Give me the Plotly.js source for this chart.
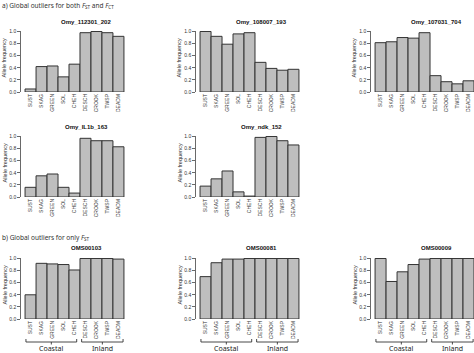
<!DOCTYPE html>
<html>
<head>
<meta charset="utf-8">
<script src="https://cdn.plot.ly/plotly-3.0.1.min.js"></script>
<style>html,body{margin:0;padding:0;background:#fff;}#chart{width:474px;height:353px;}</style>
</head>
<body>
<div id="chart"></div>
<script>
// ---- data ----
const populations = ['SUST','SKAG','GREEN','SOL','CHEH','DESCH','CROOK','TWSP','DEADM'];
const locusNames = ['Omy_112301_202','Omy_108007_193','Omy_107031_704','Omy_IL1b_163','Omy_ndk_152','OMS00103','OMS00081','OMS00009'];
const omy112301_202 = [0.05, 0.42, 0.43, 0.25, 0.46, 0.98, 1.00, 0.98, 0.92];
const omy108007_193 = [1.00, 0.92, 0.79, 0.96, 0.98, 0.49, 0.39, 0.36, 0.375];
const omy107031_704 = [0.815, 0.83, 0.90, 0.89, 0.98, 0.27, 0.17, 0.135, 0.185];
const omyIL1b_163   = [0.16, 0.35, 0.38, 0.16, 0.065, 0.97, 0.93, 0.93, 0.83];
const omyNdk_152    = [0.18, 0.30, 0.43, 0.085, 0.015, 0.985, 1.00, 0.93, 0.86];
const oms00103      = [0.40, 0.92, 0.91, 0.90, 0.81, 1.00, 1.00, 1.00, 0.99];
const oms00081      = [0.70, 0.93, 0.99, 0.99, 1.00, 1.00, 1.00, 1.00, 1.00];
const oms00009      = [1.00, 0.62, 0.78, 0.90, 0.99, 1.00, 1.00, 1.00, 1.00];
const yTicks = [0, 0.2, 0.4, 0.6, 0.8, 1.0];
const sectionLabels = ['a) Global outliers for both <i>F</i><sub>ST</sub> and <i>F</i><sub>CT</sub>',
                       'b) Global outliers for only <i>F</i><sub>ST</sub>'];
const regionLabels = ['Coastal', 'Inland'];
const yTitle = 'Allele frequency';

const series = [omy112301_202, omy108007_193, omy107031_704, omyIL1b_163, omyNdk_152, oms00103, oms00081, oms00009];

// ---- layout geometry (pixels) ----
const W = 474, H = 353;
const px = x => x / W, py = y => 1 - y / H;
const cols = [[21, 128], [196, 303], [371, 474]];
const rows = [[31, 92], [136, 197], [258, 319]];
const titleY = [22, 127, 248];
const cells = [[0,0],[0,1],[0,2],[1,0],[1,1],[2,0],[2,1],[2,2]];

const traces = [];
const layout = {
  width: W, height: H,
  margin: {l: 0, r: 0, t: 0, b: 0},
  paper_bgcolor: '#fff', plot_bgcolor: '#fff',
  showlegend: false, bargap: 0,
  font: {family: 'Liberation Sans, Arial, sans-serif', color: '#222'},
  annotations: [], shapes: []
};

cells.forEach(([r, c], i) => {
  const n = i + 1;
  const xa = n === 1 ? 'xaxis' : 'xaxis' + n;
  const ya = n === 1 ? 'yaxis' : 'yaxis' + n;
  const xr = n === 1 ? 'x' : 'x' + n;
  const yr = n === 1 ? 'y' : 'y' + n;
  traces.push({
    type: 'bar', x: populations, y: series[i], xaxis: xr, yaxis: yr,
    marker: {color: '#BEBEBE', line: {color: '#333', width: 1}},
    hoverinfo: 'x+y'
  });
  const xRange = c === 2 ? [-0.87, 8.5] : [-0.87, 8.87];
  layout[xa] = {
    domain: [px(cols[c][0]), px(cols[c][1])], anchor: yr,
    type: 'category', categoryorder: 'array', categoryarray: populations,
    range: xRange, showline: false, ticks: '', showgrid: false, zeroline: false,
    tickangle: -90, tickfont: {size: 5, color: '#333'}, automargin: false
  };
  layout[ya] = {
    domain: [py(rows[r][1]), py(rows[r][0])], anchor: xr,
    range: [0, 1.008], tickvals: yTicks, tickformat: '.1f',
    showline: true, linecolor: '#444', linewidth: 0.8,
    ticks: 'outside', ticklen: 3, tickwidth: 0.8, tickcolor: '#444',
    tickfont: {size: 5, color: '#333'}, showgrid: false, zeroline: false, automargin: false
  };
  // panel title
  layout.annotations.push({
    text: '<b>' + locusNames[i] + '</b>', xref: 'paper', yref: 'paper',
    x: px(cols[c][0] + 65), y: py(titleY[r]), xanchor: 'center', yanchor: 'middle',
    showarrow: false, font: {size: 6, color: '#111'}
  });
  // y axis title
  layout.annotations.push({
    text: yTitle, xref: 'paper', yref: 'paper', textangle: -90,
    x: px(cols[c][0] - 17), y: py((rows[r][0] + rows[r][1]) / 2 - 3),
    xanchor: 'center', yanchor: 'middle', showarrow: false,
    font: {size: 5.5, color: '#333'}
  });
  // brackets for bottom row
  if (r === 2) {
    const spans = [[-0.42, 4.2], [4.65, 8.42]];
    const yb = 342;
    spans.forEach(([a, b], k) => {
      const lineStyle = {color: '#333', width: 0.9};
      layout.shapes.push({type: 'line', xref: xr, yref: 'paper', x0: a, x1: b, y0: py(yb), y1: py(yb), line: lineStyle});
      layout.shapes.push({type: 'line', xref: xr, yref: 'paper', x0: a, x1: a, y0: py(yb), y1: py(yb - 3), line: lineStyle});
      layout.shapes.push({type: 'line', xref: xr, yref: 'paper', x0: b, x1: b, y0: py(yb), y1: py(yb - 3), line: lineStyle});
      const m = (a + b) / 2;
      layout.shapes.push({type: 'line', xref: xr, yref: 'paper', x0: m, x1: m, y0: py(yb), y1: py(yb + 2.5), line: lineStyle});
      layout.annotations.push({
        text: regionLabels[k], xref: xr, yref: 'paper', x: m, y: py(348.5),
        xanchor: 'center', yanchor: 'middle', showarrow: false,
        font: {size: 7, color: '#222', family: 'Noto Sans, sans-serif'}
      });
    });
  }
});

// section labels
layout.annotations.push({
  text: sectionLabels[0], xref: 'paper', yref: 'paper', x: 0, y: py(5),
  xanchor: 'left', yanchor: 'middle', showarrow: false,
  font: {size: 6.5, color: '#333', family: 'Noto Sans, sans-serif'}
});
layout.annotations.push({
  text: sectionLabels[1], xref: 'paper', yref: 'paper', x: 0, y: py(237.5),
  xanchor: 'left', yanchor: 'middle', showarrow: false,
  font: {size: 6.5, color: '#333', family: 'Noto Sans, sans-serif'}
});

Plotly.newPlot('chart', traces, layout, {staticPlot: true, displayModeBar: false});
</script>
</body>
</html>
